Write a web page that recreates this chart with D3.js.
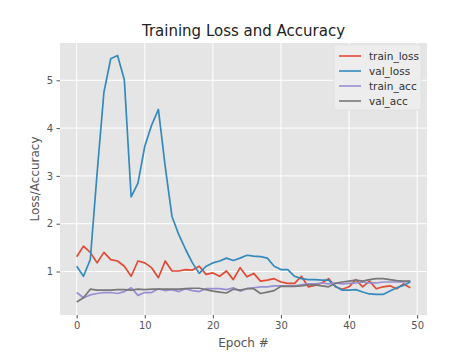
<!DOCTYPE html>
<html><head><meta charset="utf-8">
<script src="https://cdn.jsdelivr.net/npm/d3@7"></script>
<style>html,body{margin:0;padding:0;background:#fff;}svg{display:block;font-family:"DejaVu Sans",sans-serif;}</style>
</head><body><svg id="c" width="474" height="355"></svg>
<script>
const epochs = d3.range(0, 50);
const trainLoss = [1.31,1.53,1.40,1.18,1.40,1.25,1.22,1.11,0.90,1.22,1.18,1.08,0.87,1.22,1.01,1.01,1.04,1.03,1.11,0.94,0.97,0.90,1.01,0.83,1.08,0.89,0.96,0.80,0.82,0.85,0.78,0.75,0.75,0.90,0.68,0.71,0.76,0.85,0.68,0.63,0.68,0.83,0.68,0.80,0.64,0.68,0.70,0.64,0.74,0.66];
const valLoss = [1.11,0.90,1.25,3.06,4.75,5.45,5.52,5.01,2.56,2.85,3.62,4.06,4.39,3.20,2.15,1.77,1.46,1.18,0.96,1.11,1.18,1.22,1.28,1.23,1.28,1.34,1.32,1.31,1.28,1.11,1.04,1.04,0.90,0.85,0.83,0.83,0.82,0.82,0.69,0.61,0.61,0.62,0.57,0.53,0.52,0.52,0.59,0.66,0.71,0.78];
const trainAcc = [0.56,0.45,0.51,0.54,0.56,0.56,0.54,0.58,0.66,0.50,0.56,0.56,0.64,0.60,0.62,0.58,0.64,0.60,0.58,0.64,0.64,0.64,0.62,0.66,0.59,0.64,0.66,0.68,0.68,0.70,0.70,0.70,0.70,0.72,0.74,0.74,0.76,0.74,0.76,0.74,0.75,0.76,0.78,0.76,0.76,0.78,0.78,0.78,0.78,0.80];
const valAcc = [0.36,0.45,0.63,0.61,0.61,0.61,0.62,0.62,0.61,0.63,0.62,0.63,0.63,0.63,0.63,0.63,0.64,0.65,0.65,0.62,0.59,0.57,0.55,0.63,0.61,0.64,0.64,0.54,0.57,0.60,0.69,0.69,0.69,0.70,0.72,0.72,0.70,0.68,0.75,0.78,0.80,0.82,0.80,0.83,0.85,0.85,0.83,0.81,0.80,0.80];
const xTicks = [0,10,20,30,40,50];
const yTicks = [1,2,3,4,5];
const seriesNames = ["train_loss","val_loss","train_acc","val_acc"];
const seriesColors = ["#E24A33","#348ABD","#988ED5","#777777"];
const seriesData = [trainLoss, valLoss, trainAcc, valAcc];

const svg = d3.select("#c");
const m = {l:60, r:47, t:43, b:40};
const W = 474, H = 355;
const x = d3.scaleLinear().domain([-2.45, 51.45]).range([m.l, W - m.r]);
const y = d3.scaleLinear().domain([0.09, 5.78]).range([H - m.b, m.t]);

svg.append("rect").attr("x", m.l).attr("y", m.t)
  .attr("width", W - m.r - m.l).attr("height", H - m.b - m.t).attr("fill", "#E5E5E5");

const g = svg.append("g");
g.selectAll(".vg").data(xTicks).join("line")
  .attr("x1", d => x(d)).attr("x2", d => x(d)).attr("y1", m.t).attr("y2", H - m.b)
  .attr("stroke", "#fff").attr("stroke-width", 1);
g.selectAll(".hg").data(yTicks).join("line")
  .attr("y1", d => y(d)).attr("y2", d => y(d)).attr("x1", m.l).attr("x2", W - m.r)
  .attr("stroke", "#fff").attr("stroke-width", 1);

const xa = svg.append("g").attr("transform", `translate(0,${H - m.b})`)
  .call(d3.axisBottom(x).tickValues(xTicks).tickSize(3.5).tickPadding(3.5).tickFormat(d3.format("d")));
const ya = svg.append("g").attr("transform", `translate(${m.l},0)`)
  .call(d3.axisLeft(y).tickValues(yTicks).tickSize(3.5).tickPadding(3.5).tickFormat(d3.format("d")));
[xa, ya].forEach(a => {
  a.select(".domain").remove();
  a.selectAll(".tick line").attr("stroke", "#555");
  a.selectAll(".tick text").attr("fill", "#555").style("font-size", "10px").style("font-family", "DejaVu Sans");
});

const line = d3.line().x((d, i) => x(epochs[i])).y(d => y(d));
seriesData.forEach((s, k) => {
  svg.append("path").datum(s).attr("d", line).attr("fill", "none")
    .attr("stroke", seriesColors[k]).attr("stroke-width", 1.7).attr("stroke-linejoin", "round");
});

svg.append("text").attr("x", (m.l + W - m.r) / 2).attr("y", 36).attr("text-anchor", "middle")
  .style("font-size", "15px").attr("fill", "#222").text("Training Loss and Accuracy");
svg.append("text").attr("x", (m.l + W - m.r) / 2).attr("y", 347).attr("text-anchor", "middle")
  .style("font-size", "12px").attr("fill", "#555").text("Epoch #");
svg.append("text").attr("transform", `translate(39,${(m.t + H - m.b) / 2}) rotate(-90)`).attr("text-anchor", "middle")
  .style("font-size", "12px").attr("fill", "#555").text("Loss/Accuracy");

const lg = svg.append("g");
lg.append("rect").attr("x", 334).attr("y", 45).attr("width", 87).attr("height", 65).attr("rx", 2)
  .attr("fill", "#EDEDED").attr("stroke", "#E0E0E0").attr("stroke-width", 0.8);
seriesNames.forEach((n, k) => {
  const yy = 56 + k * 15;
  lg.append("line").attr("x1", 339).attr("x2", 361).attr("y1", yy).attr("y2", yy)
    .attr("stroke", seriesColors[k]).attr("stroke-width", 1.6);
  lg.append("text").attr("x", 369).attr("y", yy + 4).style("font-size", "10.5px").attr("fill", "#333").text(n);
});
</script></body></html>
